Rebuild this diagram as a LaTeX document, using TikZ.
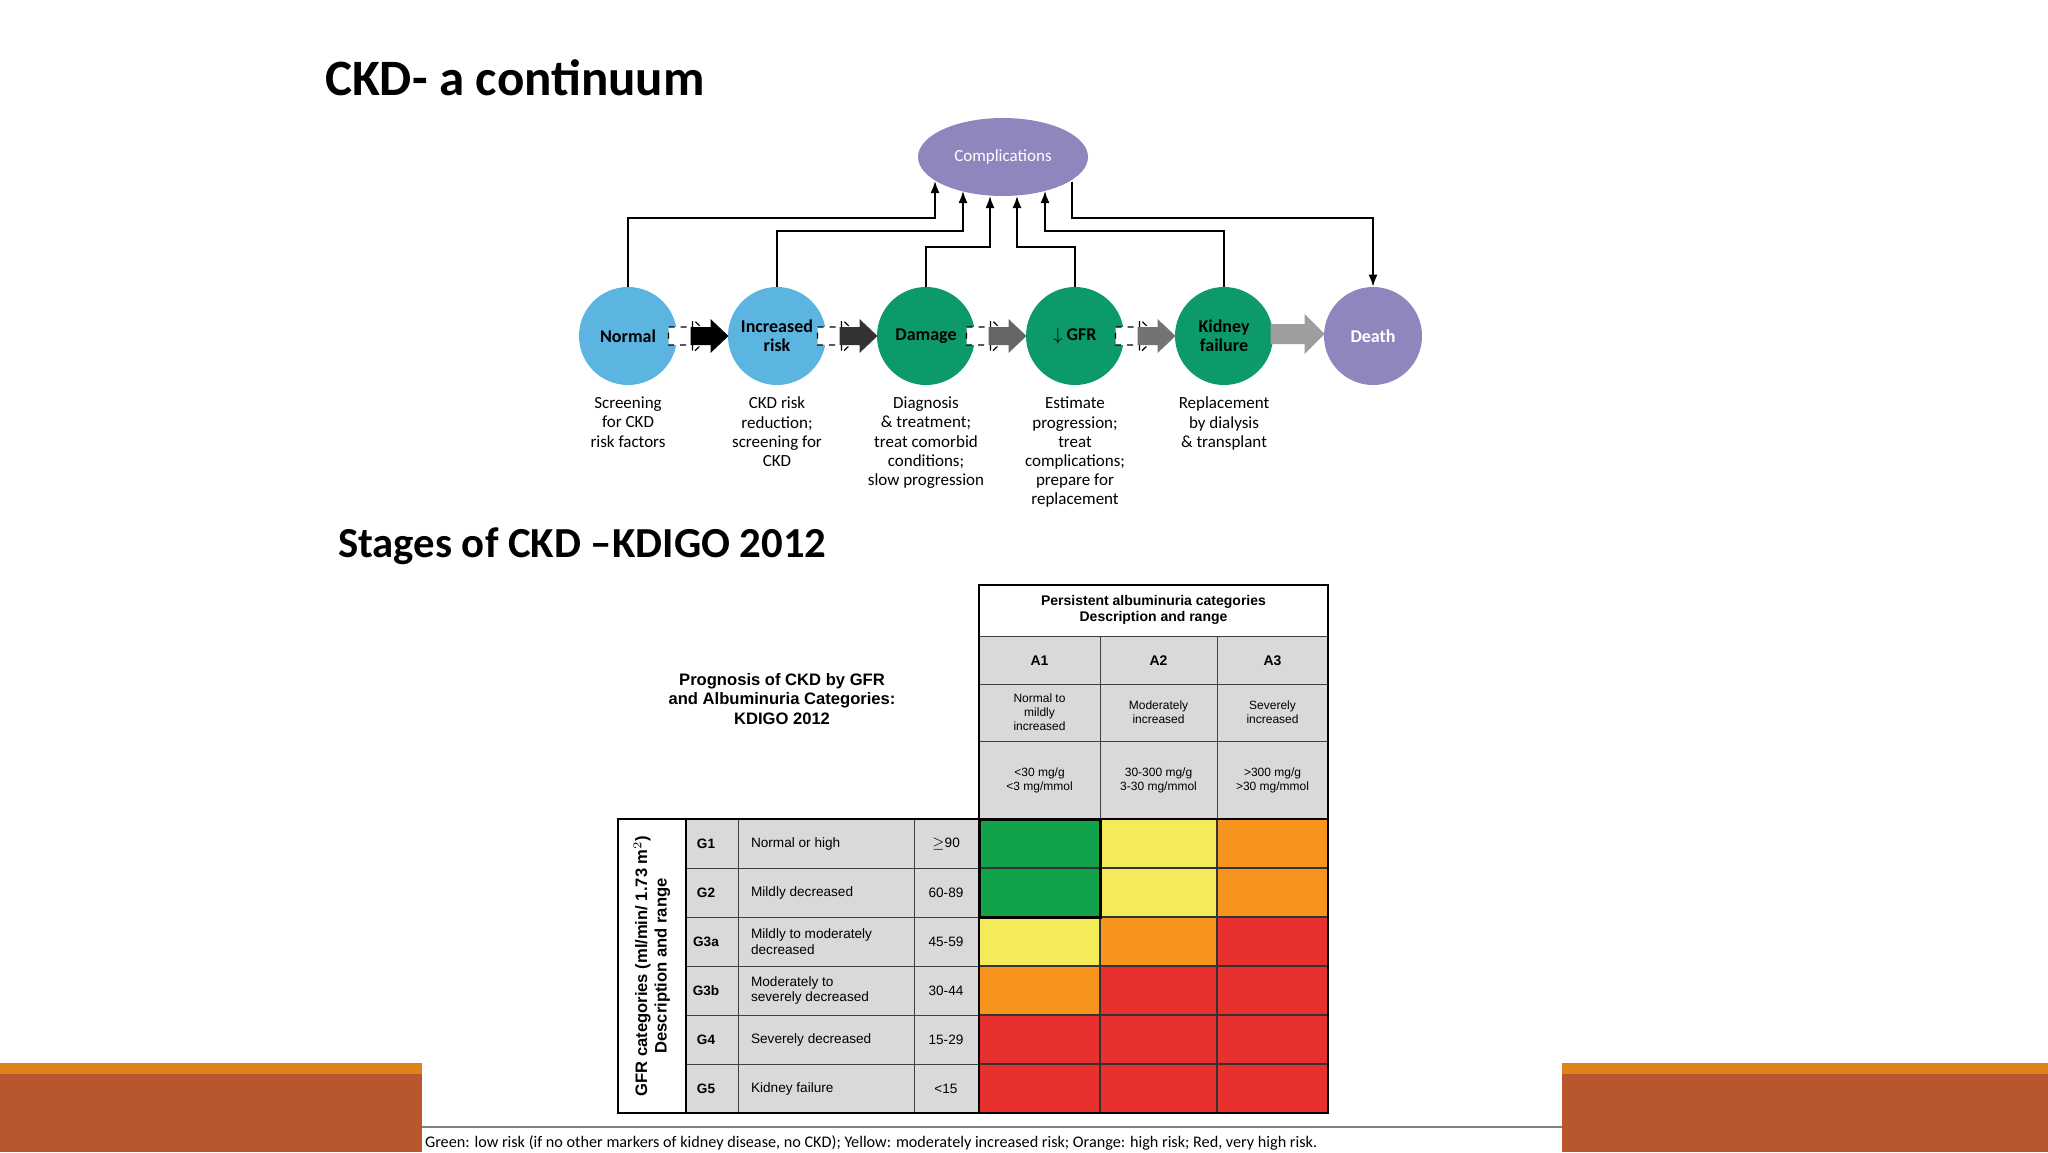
\documentclass[tikz,border=0pt]{standalone}
\usepackage{fontspec}
\setmainfont{Carlito}
\newfontfamily\arialf{Liberation Sans}
\usetikzlibrary{shapes.geometric,calc,arrows.meta}
\definecolor{cblue}{HTML}{5BB5E0}
\definecolor{cgreen}{HTML}{0C9A6A}
\definecolor{cpurple}{HTML}{8E87BD}
\definecolor{tgreen}{HTML}{12A24A}
\definecolor{tyellow}{HTML}{F4EB5A}
\definecolor{torange}{HTML}{F7941D}
\definecolor{tred}{HTML}{E8312F}
\definecolor{tgray}{HTML}{D9D9D9}
\definecolor{barmain}{HTML}{B8572D}
\definecolor{bartop}{HTML}{E0821A}
\tikzset{
  circ/.style={circle,minimum size=49pt,inner sep=0pt,align=center,font=\fontsize{9}{9.5}\selectfont\bfseries},
  lab/.style={align=center,anchor=north,font=\fontsize{8.5}{9.6}\selectfont},
  conn/.style={line width=0.8pt,-{Latex[length=6pt,width=4.5pt]}},
  cell/.style={draw=black!75,line width=0.5pt},
  ttext/.style={font=\arialf\fontsize{6.5}{7.5}\selectfont,align=center},
}
\begin{document}
\begin{tikzpicture}[x=0.5pt,y=-0.5pt]
\useasboundingbox (0,0) rectangle (2048,1152);
\fill[white] (0,0) rectangle (2048,1152);
% bars
\fill[barmain] (0,1074) rectangle (422,1152);
\fill[bartop] (0,1063) rectangle (422,1074);
\fill[barmain] (1562,1074) rectangle (2048,1152);
\fill[bartop] (1562,1063) rectangle (2048,1074);
% titles
\node[anchor=west,font=\fontsize{25.5}{27}\selectfont\bfseries] (t1) at (318,78) {CKD- a continuum};
\node[anchor=west,font=\fontsize{21.4}{23}\selectfont\bfseries] (t2) at (331,546) {Stages of CKD –KDIGO 2012};
% circles
\node[circ,fill=cblue] (n1) at (628,336) {Normal};
\node[circ,fill=cblue] (n2) at (777,336) {Increased\\risk};
\node[circ,fill=cgreen] (n3) at (926,336) {Damage};
\node[circ,fill=cgreen] (n4) at (1075,336) {$\downarrow$ GFR};
\node[circ,fill=cgreen] (n5) at (1224,336) {Kidney\\failure};
\node[circ,fill=cpurple,text=white] (n6) at (1373,336) {Death};
\node[ellipse,fill=cpurple,minimum width=85pt,minimum height=39pt,text=white,font=\fontsize{8.5}{9}\selectfont] (comp) at (1003,157) {Complications};
% block arrows
\foreach \a/\b/\c in {n1/n2/black,n2/n3/black!80,n3/n4/black!60,n4/n5/black!55}{
  \coordinate (m) at ($(\a)!0.5!(\b)$);
  \draw[black,dashed,line width=0.6pt,fill=white,shift={($(m)+(-12,0)$)}] (-22,-9) -- (2,-9) -- (2,-17) -- (20,0) -- (2,17) -- (2,9) -- (-22,9) -- cycle;
  \fill[\c,shift={($(m)+(6,0)$)}] (-18,-9) -- (2,-9) -- (2,-17) -- (20,0) -- (2,17) -- (2,9) -- (-18,9) -- cycle;
}
\coordinate (mk) at ($(n5)!0.5!(n6)+(0,-2)$);
\fill[black!38,shift={(mk)}] (-28,-10) -- (6,-10) -- (6,-20) -- (26,0) -- (6,20) -- (6,10) -- (-28,10) -- cycle;
% connectors
\coordinate (c1) at (935,181);
\coordinate (c2) at (963,191);
\coordinate (c3) at (990,196);
\coordinate (c4) at (1017,196);
\coordinate (c5) at (1045,191);
\draw[conn] (n1.north) |- (935,218) -- (c1);
\draw[conn] (n2.north) |- (963,231) -- (c2);
\draw[conn] (n3.north) |- (990,247) -- (c3);
\draw[conn] (n4.north) |- (1017,247) -- (c4);
\draw[conn] (n5.north) |- (1045,231) -- (c5);
\coordinate (cd) at (1072,182);
\draw[conn] (cd) |- (1373,218) -- (n6.north);
% labels
\node[lab] (l1) at (628,390) {Screening\\for CKD\\risk factors};
\node[lab] (l2) at (777,390) {CKD risk\\reduction;\\screening for\\CKD};
\node[lab] (l3) at (926,390) {Diagnosis\\\& treatment;\\treat comorbid\\conditions;\\slow progression};
\node[lab] (l4) at (1075,390) {Estimate\\progression;\\treat\\complications;\\prepare for\\replacement};
\node[lab] (l5) at (1224,390) {Replacement\\by dialysis\\\& transplant};
% table header
\draw[cell,fill=white] (979,585) rectangle (1328,636);
\node[ttext,font=\arialf\bfseries\fontsize{7}{8}\selectfont] (hd) at (1153.5,610) {Persistent albuminuria categories\\Description and range};
\foreach \x/\y/\t/\d/\r in {979/1100/A1/{Normal to\\mildly\\increased}/{<30 mg/g\\<3 mg/mmol},1100/1217/A2/{Moderately\\increased}/{30-300 mg/g\\3-30 mg/mmol},1217/1328/A3/{Severely\\increased}/{>300 mg/g\\>30 mg/mmol}}{
  \draw[cell,fill=tgray] (\x,636) rectangle (\y,684);
  \draw[cell,fill=tgray] (\x,684) rectangle (\y,741);
  \draw[cell,fill=tgray] (\x,741) rectangle (\y,819);
  \node[ttext,font=\arialf\bfseries\fontsize{7}{8}\selectfont] at ({(\x+\y)/2},661) {\t};
  \node[ttext,font=\arialf\fontsize{6}{7}\selectfont] at ({(\x+\y)/2},712) {\d};
  \node[ttext,font=\arialf\fontsize{6}{7}\selectfont] at ({(\x+\y)/2},780) {\r};
}
\draw[line width=1.3pt] (979,585) rectangle (1328,819);
\node[font=\arialf\bfseries\fontsize{8.3}{9.8}\selectfont,align=center] (prog) at (782,699) {Prognosis of CKD by GFR\\and Albuminuria Categories:\\KDIGO 2012};
% rows
\foreach \i/\g/\desc/\rng/\ca/\cb/\cc in {0/G1/Normal or high/$\geq$90/tgreen/tyellow/torange,1/G2/Mildly decreased/60-89/tgreen/tyellow/torange,2/G3a/{Mildly to moderately\\decreased}/45-59/tyellow/torange/tred,3/G3b/{Moderately to\\severely decreased}/30-44/torange/tred/tred,4/G4/Severely decreased/15-29/tred/tred/tred,5/G5/Kidney failure/<15/tred/tred/tred}{
  \pgfmathsetmacro\ya{819+49*\i}
  \pgfmathsetmacro\yb{\ya+49}
  \pgfmathsetmacro\ym{\ya+24.5}
  \draw[cell,fill=tgray] (686,\ya) rectangle (738,\yb);
  \draw[cell,fill=tgray] (738,\ya) rectangle (914,\yb);
  \draw[cell,fill=tgray] (914,\ya) rectangle (979,\yb);
  \fill[\ca] (979,\ya) rectangle (1100,\yb);
  \fill[\cb] (1100,\ya) rectangle (1217,\yb);
  \fill[\cc] (1217,\ya) rectangle (1328,\yb);
  \draw[black!80,line width=0.6pt] (979,\ya) rectangle (1100,\yb) (1100,\ya) rectangle (1217,\yb) (1217,\ya) rectangle (1328,\yb);
  \node[font=\arialf\bfseries\fontsize{6.8}{7.8}\selectfont] at (706,\ym) {\g};
  \node[anchor=west,align=left,font=\arialf\fontsize{6.8}{7.8}\selectfont] at (744,\ym) {\desc};
  \node[font=\arialf\fontsize{6.8}{7.8}\selectfont] at (946,\ym) {\rng};
}
\draw[line width=1.5pt] (979,819) rectangle (1100,917);
\draw[line width=1.3pt] (618,819) rectangle (1328,1113);
\draw[line width=1.3pt] (686,819) -- (686,1113);
\draw[line width=1.3pt] (979,819) -- (979,1113);
\node[rotate=90,align=center,font=\arialf\bfseries\fontsize{8.3}{9.8}\selectfont] (gfr) at (652,966) {GFR categories (ml/min/ 1.73 m$^2$)\\Description and range};
% footnote
\draw[black!50,line width=0.6pt] (422,1127) -- (1562,1127);
\node[anchor=west,font=\fontsize{8.1}{9}\selectfont] (fn) at (418,1143) {Green: low risk (if no other markers of kidney disease, no CKD); Yellow: moderately increased risk; Orange: high risk; Red, very high risk.};
\end{tikzpicture}
\end{document}
